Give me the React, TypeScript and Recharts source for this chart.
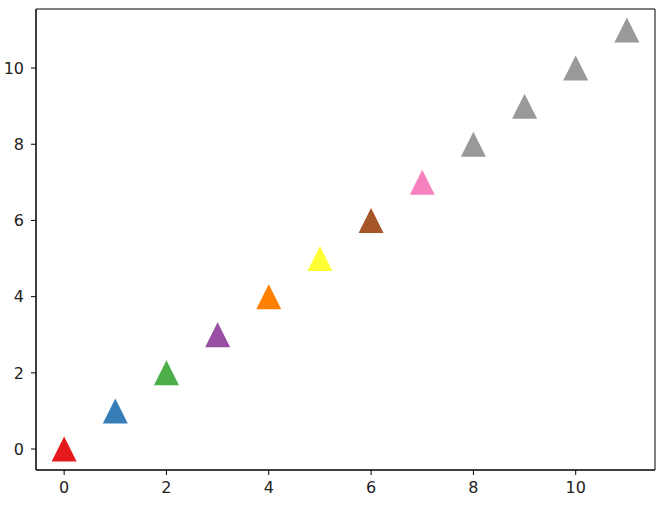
import { ScatterChart, Scatter, XAxis, YAxis, ReferenceArea } from 'recharts';

const xValues = [0, 1, 2, 3, 4, 5, 6, 7, 8, 9, 10, 11];
const yValues = [0, 1, 2, 3, 4, 5, 6, 7, 8, 9, 10, 11];
const pointColors = [
  '#e41a1c', '#377eb8', '#4daf4a', '#984ea3', '#ff7f00', '#ffff33',
  '#a65628', '#f781bf', '#999999', '#999999', '#999999', '#999999',
];
const xTicks = [0, 2, 4, 6, 8, 10];
const yTicks = [0, 2, 4, 6, 8, 10];
const axisDomain = [-0.55, 11.55];

const data = xValues.map((x, i) => ({ x, y: yValues[i], color: pointColors[i] }));

const Triangle = (props: any) => {
  const { cx, cy, payload } = props;
  const r = 12.5;
  return (
    <polygon
      points={`${cx},${cy - r} ${cx - r},${cy + r} ${cx + r},${cy + r}`}
      fill={payload.color}
    />
  );
};

const tickStyle = { fill: '#222', fontSize: 16, fontFamily: 'DejaVu Sans' };

export default function App() {
  return (
    <div style={{ position: 'absolute', left: 0, top: 0, width: 661, height: 505, background: '#fff' }}>
      <ScatterChart width={661} height={505} margin={{ top: 9, right: 6, left: 0, bottom: 0 }}>
        <XAxis
          type="number"
          dataKey="x"
          domain={axisDomain}
          ticks={xTicks}
          height={35}
          stroke="#000"
          tickSize={5}
          tickMargin={7}
          tick={tickStyle}
          allowDataOverflow
        />
        <YAxis
          type="number"
          dataKey="y"
          domain={axisDomain}
          ticks={yTicks}
          width={36}
          stroke="#000"
          tickSize={5}
          tickMargin={7}
          tick={tickStyle}
          allowDataOverflow
        />
        <ReferenceArea
          x1={axisDomain[0]}
          x2={axisDomain[1]}
          y1={axisDomain[0]}
          y2={axisDomain[1]}
          fill="none"
          stroke="#000"
          strokeWidth={1}
        />
        <Scatter data={data} shape={Triangle} isAnimationActive={false} />
      </ScatterChart>
    </div>
  );
}
